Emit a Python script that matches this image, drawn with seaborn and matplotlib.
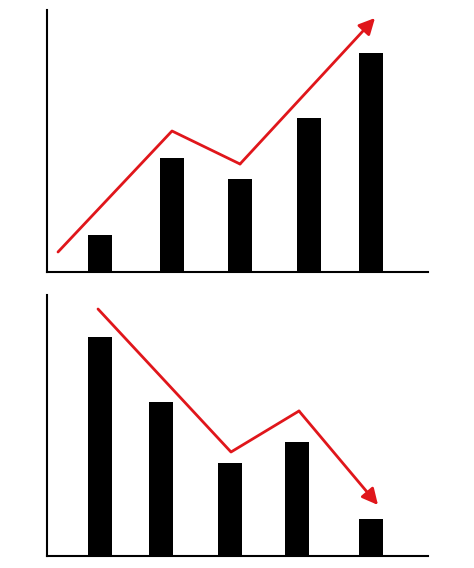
import matplotlib
matplotlib.use("Agg")
import matplotlib.pyplot as plt
import seaborn as sns

sns.set_theme(style="white")

# Top chart (rising)
top_pos = [100, 172, 240, 309, 371]
top_vals = [37, 114, 93, 154, 219]
top_line_x = [58, 172, 240, 375]
top_line_y = [20, 141, 108, 254]

# Bottom chart (falling)
bot_pos = [100, 161, 230, 297, 371]
bot_vals = [219, 154, 93, 114, 37]
bot_line_x = [98, 231, 299, 378]
bot_line_y = [247, 104, 145, 51]

W, H = 474, 568
fig = plt.figure(figsize=(W / 100, H / 100), dpi=100)
fig.patch.set_facecolor("white")

def panel(rect, pos, vals, lx, ly, ytop):
    ax = fig.add_axes(rect)
    spacing = min(b - a for a, b in zip(pos[:-1], pos[1:]))
    sns.barplot(x=pos, y=vals, native_scale=True, color="black",
                width=24 / spacing, saturation=1, ax=ax, edgecolor="none")
    ax.plot(lx[:-1], ly[:-1], color="#e0161b", lw=2, solid_capstyle="round")
    ax.annotate("", xy=(lx[-1], ly[-1]), xytext=(lx[-2], ly[-2]),
                arrowprops=dict(arrowstyle="-|>,head_length=0.8,head_width=0.4",
                                color="#e0161b", lw=2, shrinkA=0, shrinkB=0))
    ax.set_xlim(47, 428)
    ax.set_ylim(0, ytop)
    ax.set_xticks([]); ax.set_yticks([])
    ax.set_xlabel(""); ax.set_ylabel("")
    ax.set_facecolor("none")
    for s in ["top", "right"]:
        ax.spines[s].set_visible(False)
    for s in ["left", "bottom"]:
        ax.spines[s].set_color("black")
        ax.spines[s].set_linewidth(1.5)
    return ax

panel([47 / W, (H - 272) / H, 381 / W, 262 / H], top_pos, top_vals, top_line_x, top_line_y, 262)
panel([47 / W, (H - 556) / H, 381 / W, 261 / H], bot_pos, bot_vals, bot_line_x, bot_line_y, 261)

fig.savefig("out.png", dpi=100, facecolor="white")
